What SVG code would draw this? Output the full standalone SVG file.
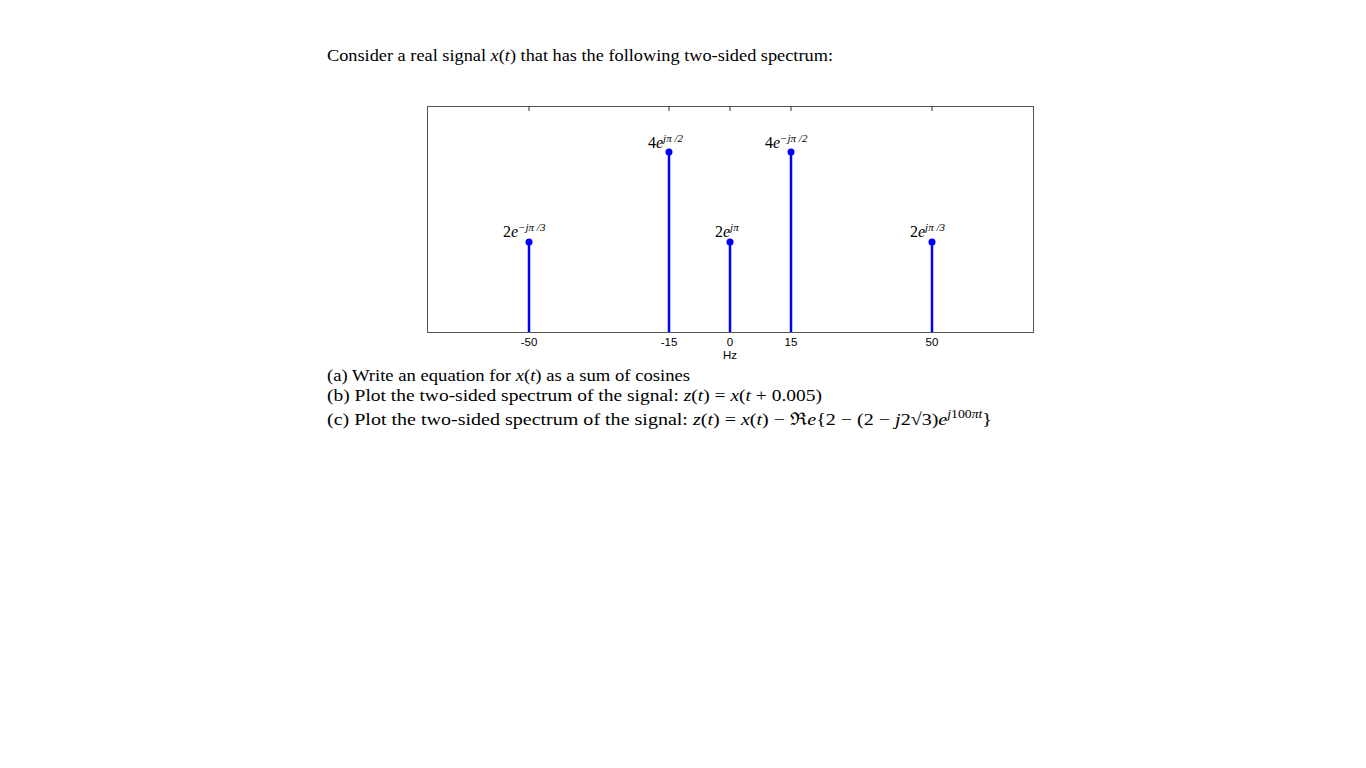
<svg xmlns="http://www.w3.org/2000/svg" width="1366" height="768" viewBox="0 0 1366 768">
<style>
.t{font-family:"Liberation Serif",serif;font-size:17.5px;fill:#000}
.m{font-family:"Liberation Serif",serif;font-size:16px;fill:#000}
.s{font-family:"Liberation Serif",serif;font-size:11px;fill:#000}
.ax{font-family:"Liberation Sans",sans-serif;font-size:11.5px;fill:#000;text-anchor:middle}
.stem{stroke:#0000ff;stroke-width:2.5}
.tick{stroke:#333;stroke-width:1}
</style>
<rect width="1366" height="768" fill="#fff"/>
<text class="t" x="327" y="61" textLength="506" lengthAdjust="spacingAndGlyphs">Consider a real signal <tspan font-style="italic">x</tspan>(<tspan font-style="italic">t</tspan>) that has the following two-sided spectrum:</text>
<rect x="427.5" y="106.5" width="606" height="226" fill="none" stroke="#555" stroke-width="1"/>
<g class="tick">
<line x1="529" y1="106" x2="529" y2="111"/><line x1="669" y1="106" x2="669" y2="111"/><line x1="730" y1="106" x2="730" y2="111"/><line x1="791" y1="106" x2="791" y2="111"/><line x1="932" y1="106" x2="932" y2="111"/>
</g>
<g id="connectors">
<line class="stem" x1="529" y1="332" x2="529" y2="242"/>
<line class="stem" x1="669" y1="332" x2="669" y2="152"/>
<line class="stem" x1="730" y1="332" x2="730" y2="242"/>
<line class="stem" x1="791" y1="332" x2="791" y2="152"/>
<line class="stem" x1="932" y1="332" x2="932" y2="242"/>
</g>
<g id="n-50"><circle cx="529" cy="242" r="3.5" fill="#0000ff"/><text class="m" x="503" y="237">2<tspan font-style="italic">e</tspan><tspan class="s" dy="-6" font-style="italic">−jπ /3</tspan></text></g>
<g id="n-15"><circle cx="669" cy="152" r="3.5" fill="#0000ff"/><text class="m" x="648" y="148">4<tspan font-style="italic">e</tspan><tspan class="s" dy="-6" font-style="italic">jπ /2</tspan></text></g>
<g id="n0"><circle cx="730" cy="242" r="3.5" fill="#0000ff"/><text class="m" x="715" y="237">2<tspan font-style="italic">e</tspan><tspan class="s" dy="-6" font-style="italic">jπ</tspan></text></g>
<g id="n15"><circle cx="791" cy="152" r="3.5" fill="#0000ff"/><text class="m" x="765" y="148">4<tspan font-style="italic">e</tspan><tspan class="s" dy="-6" font-style="italic">−jπ /2</tspan></text></g>
<g id="n50"><circle cx="932" cy="242" r="3.5" fill="#0000ff"/><text class="m" x="910" y="237">2<tspan font-style="italic">e</tspan><tspan class="s" dy="-6" font-style="italic">jπ /3</tspan></text></g>
<text class="ax" x="529" y="346">-50</text><text class="ax" x="669" y="346">-15</text><text class="ax" x="730" y="346">0</text><text class="ax" x="791" y="346">15</text><text class="ax" x="932" y="346">50</text>
<text class="ax" x="730" y="359">Hz</text>
<text class="t" x="327" y="381" textLength="363" lengthAdjust="spacingAndGlyphs">(a)  Write an equation for <tspan font-style="italic">x</tspan>(<tspan font-style="italic">t</tspan>) as a sum of cosines</text>
<text class="t" x="327" y="401" textLength="495" lengthAdjust="spacingAndGlyphs">(b)  Plot the two-sided spectrum of the signal: <tspan font-style="italic">z</tspan>(<tspan font-style="italic">t</tspan>) = <tspan font-style="italic">x</tspan>(<tspan font-style="italic">t</tspan> + 0.005)</text>
<text class="t" x="327" y="425" textLength="665" lengthAdjust="spacingAndGlyphs">(c)  Plot the two-sided spectrum of the signal: <tspan font-style="italic">z</tspan>(<tspan font-style="italic">t</tspan>) = <tspan font-style="italic">x</tspan>(<tspan font-style="italic">t</tspan>) − ℜ<tspan font-style="italic">e</tspan>{2 − (2 − <tspan font-style="italic">j</tspan>2√3)<tspan font-style="italic">e</tspan><tspan font-size="12" dy="-7" font-style="italic">j</tspan><tspan font-size="12">100</tspan><tspan font-size="12" font-style="italic">πt</tspan><tspan dy="7">}</tspan></text>
</svg>
